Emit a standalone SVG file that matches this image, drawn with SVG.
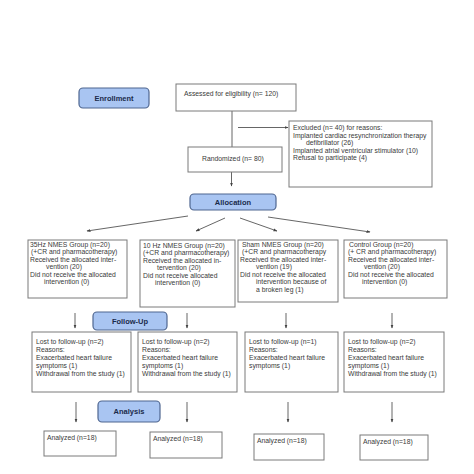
<svg xmlns="http://www.w3.org/2000/svg" width="474" height="474" viewBox="0 0 474 474">
<defs>
<style>
.box{fill:#fff;stroke:#7a7a7a;stroke-width:1}
.stage{fill:#a9c5f2;stroke:#4f6690;stroke-width:1.2}
.t{font-family:"Liberation Sans",Arial,sans-serif;font-size:6.8px;fill:#3a3a3a}
.s{font-family:"Liberation Sans",Arial,sans-serif;font-size:7.5px;font-weight:bold;fill:#1a2a4a;text-anchor:middle}
.ln{stroke:#555;stroke-width:0.9;fill:none}
</style>
<marker id="ah" markerWidth="4" markerHeight="4" refX="3.5" refY="2" orient="auto" markerUnits="userSpaceOnUse">
<path d="M0,0.5 L4,2 L0,3.5 Z" fill="#444"/>
</marker>
</defs>
<rect width="474" height="474" fill="#fff"/>
<g id="connectors">
<line class="ln" x1="232" y1="111" x2="232" y2="147"/>
<line class="ln" x1="238" y1="127.5" x2="288" y2="127.5" marker-end="url(#ah)"/>
<line class="ln" x1="231.5" y1="172" x2="231.5" y2="186" marker-end="url(#ah)"/>
<line class="ln" x1="188" y1="216" x2="87" y2="231" marker-end="url(#ah)"/>
<line class="ln" x1="225" y1="218" x2="196" y2="231" marker-end="url(#ah)"/>
<line class="ln" x1="240" y1="218" x2="277" y2="231" marker-end="url(#ah)"/>
<line class="ln" x1="268" y1="217" x2="370" y2="232" marker-end="url(#ah)"/>
<line class="ln" x1="75" y1="313" x2="75" y2="328" marker-end="url(#ah)"/>
<line class="ln" x1="187" y1="313" x2="187" y2="328" marker-end="url(#ah)"/>
<line class="ln" x1="286" y1="313" x2="286" y2="328" marker-end="url(#ah)"/>
<line class="ln" x1="392" y1="313" x2="392" y2="328" marker-end="url(#ah)"/>
<line class="ln" x1="76" y1="402" x2="76" y2="422" marker-end="url(#ah)"/>
<line class="ln" x1="187" y1="402" x2="187" y2="422" marker-end="url(#ah)"/>
<line class="ln" x1="288" y1="402" x2="288" y2="422" marker-end="url(#ah)"/>
<line class="ln" x1="392" y1="402" x2="392" y2="422" marker-end="url(#ah)"/>
</g>
<g id="enrollment">
<rect class="stage" x="79" y="88" width="70" height="20" rx="4"/>
<text class="s" x="114" y="100.5">Enrollment</text>
</g>
<g id="assessed">
<rect class="box" x="176" y="84" width="120" height="27"/>
<text class="t" x="184" y="96">Assessed for eligibility (n= 120)</text>
</g>
<g id="excluded">
<rect class="box" x="289" y="121" width="143" height="66"/>
<text class="t" x="293" y="130">Excluded  (n= 40) for reasons:</text>
<text class="t" x="293" y="137.5">Implanted cardiac  resynchronization therapy</text>
<text class="t" x="306" y="145">defibrillator (26)</text>
<text class="t" x="293" y="152.5">Implanted atrial ventricular stimulator (10)</text>
<text class="t" x="293" y="160">Refusal to participate (4)</text>
</g>
<g id="randomized">
<rect class="box" x="188" y="147" width="94" height="25"/>
<text class="t" x="202" y="161">Randomized (n= 80)</text>
</g>
<g id="allocation">
<rect class="stage" x="190" y="194" width="86" height="16" rx="4"/>
<text class="s" x="233" y="204.5">Allocation</text>
</g>
<g id="group1">
<rect class="box" x="28" y="240" width="99" height="58"/>
<text class="t" x="30" y="246.5">35Hz NMES Group (n=20)</text>
<text class="t" x="31" y="254">(+CR and pharmacotherapy)</text>
<text class="t" x="30" y="261.5">Received the allocated inter-</text>
<text class="t" x="46" y="269">vention (20)</text>
<text class="t" x="30" y="276.5">Did not receive the allocated</text>
<text class="t" x="44" y="284">intervention (0)</text>
</g>
<g id="group2">
<rect class="box" x="140" y="240" width="95" height="67"/>
<text class="t" x="143" y="247.5">10 Hz NMES Group  (n=20)</text>
<text class="t" x="143" y="255">(+CR and pharmacotherapy)</text>
<text class="t" x="143" y="262.5">Received the allocated in-</text>
<text class="t" x="157" y="270">tervention (20)</text>
<text class="t" x="143" y="277.5">Did not receive allocated</text>
<text class="t" x="155" y="285">intervention (0)</text>
</g>
<g id="group3">
<rect class="box" x="238" y="240" width="100" height="62"/>
<text class="t" x="242" y="246.5">Sham NMES Group  (n=20)</text>
<text class="t" x="242" y="254">(+CR  and pharmacotherapy</text>
<text class="t" x="240" y="261.5">Received the allocated inter-</text>
<text class="t" x="256" y="269">vention (19)</text>
<text class="t" x="240" y="276.5">Did not receive the allocated</text>
<text class="t" x="256" y="284">intervention  because of</text>
<text class="t" x="256" y="291.5">a broken leg (1)</text>
</g>
<g id="group4">
<rect class="box" x="344" y="240" width="103" height="58"/>
<text class="t" x="349" y="246.5">Control Group (n=20)</text>
<text class="t" x="348" y="254">(+ CR and pharmacotherapy)</text>
<text class="t" x="348" y="261.5">Received the allocated inter-</text>
<text class="t" x="364" y="269">vention (20)</text>
<text class="t" x="348" y="276.5">Did not receive the allocated</text>
<text class="t" x="362" y="284">intervention (0)</text>
</g>
<g id="followup">
<rect class="stage" x="93" y="312" width="74" height="18" rx="4"/>
<text class="s" x="130" y="323.5">Follow-Up</text>
</g>
<g id="lost1">
<rect class="box" x="32" y="332" width="99" height="60"/>
<text class="t" x="36" y="344">Lost to follow-up (n=2)</text>
<text class="t" x="36" y="352">Reasons:</text>
<text class="t" x="36" y="360">Exacerbated heart failure</text>
<text class="t" x="36" y="368">symptoms (1)</text>
<text class="t" x="36" y="376">Withdrawal from the study (1)</text>
</g>
<g id="lost2">
<rect class="box" x="138" y="332" width="99" height="60"/>
<text class="t" x="142" y="344">Lost to follow-up (n=2)</text>
<text class="t" x="142" y="352">Reasons:</text>
<text class="t" x="142" y="360">Exacerbated heart failure</text>
<text class="t" x="142" y="368">symptoms (1)</text>
<text class="t" x="142" y="376">Withdrawal from the study (1)</text>
</g>
<g id="lost3">
<rect class="box" x="245" y="332" width="93" height="60"/>
<text class="t" x="249" y="344">Lost to follow-up (n=1)</text>
<text class="t" x="249" y="352">Reasons:</text>
<text class="t" x="249" y="360">Exacerbated heart failure</text>
<text class="t" x="249" y="368">symptoms (1)</text>
</g>
<g id="lost4">
<rect class="box" x="344" y="332" width="100" height="60"/>
<text class="t" x="348" y="344">Lost to follow-up (n=2)</text>
<text class="t" x="348" y="352">Reasons:</text>
<text class="t" x="348" y="360">Exacerbated  heart failure</text>
<text class="t" x="348" y="368">symptoms (1)</text>
<text class="t" x="348" y="376">Withdrawal from the study (1)</text>
</g>
<g id="analysis">
<rect class="stage" x="98" y="401" width="62" height="21" rx="4"/>
<text class="s" x="129" y="414">Analysis</text>
</g>
<g id="analyzed1">
<rect class="box" x="44" y="431" width="72" height="25"/>
<text class="t" x="47" y="440">Analyzed  (n=18)</text>
</g>
<g id="analyzed2">
<rect class="box" x="150" y="432" width="72" height="26"/>
<text class="t" x="153" y="441">Analyzed  (n=18)</text>
</g>
<g id="analyzed3">
<rect class="box" x="254" y="434" width="70" height="26"/>
<text class="t" x="257" y="443">Analyzed  (n=18)</text>
</g>
<g id="analyzed4">
<rect class="box" x="360" y="435" width="68" height="25"/>
<text class="t" x="363" y="444">Analyzed  (n=18)</text>
</g>
</svg>
